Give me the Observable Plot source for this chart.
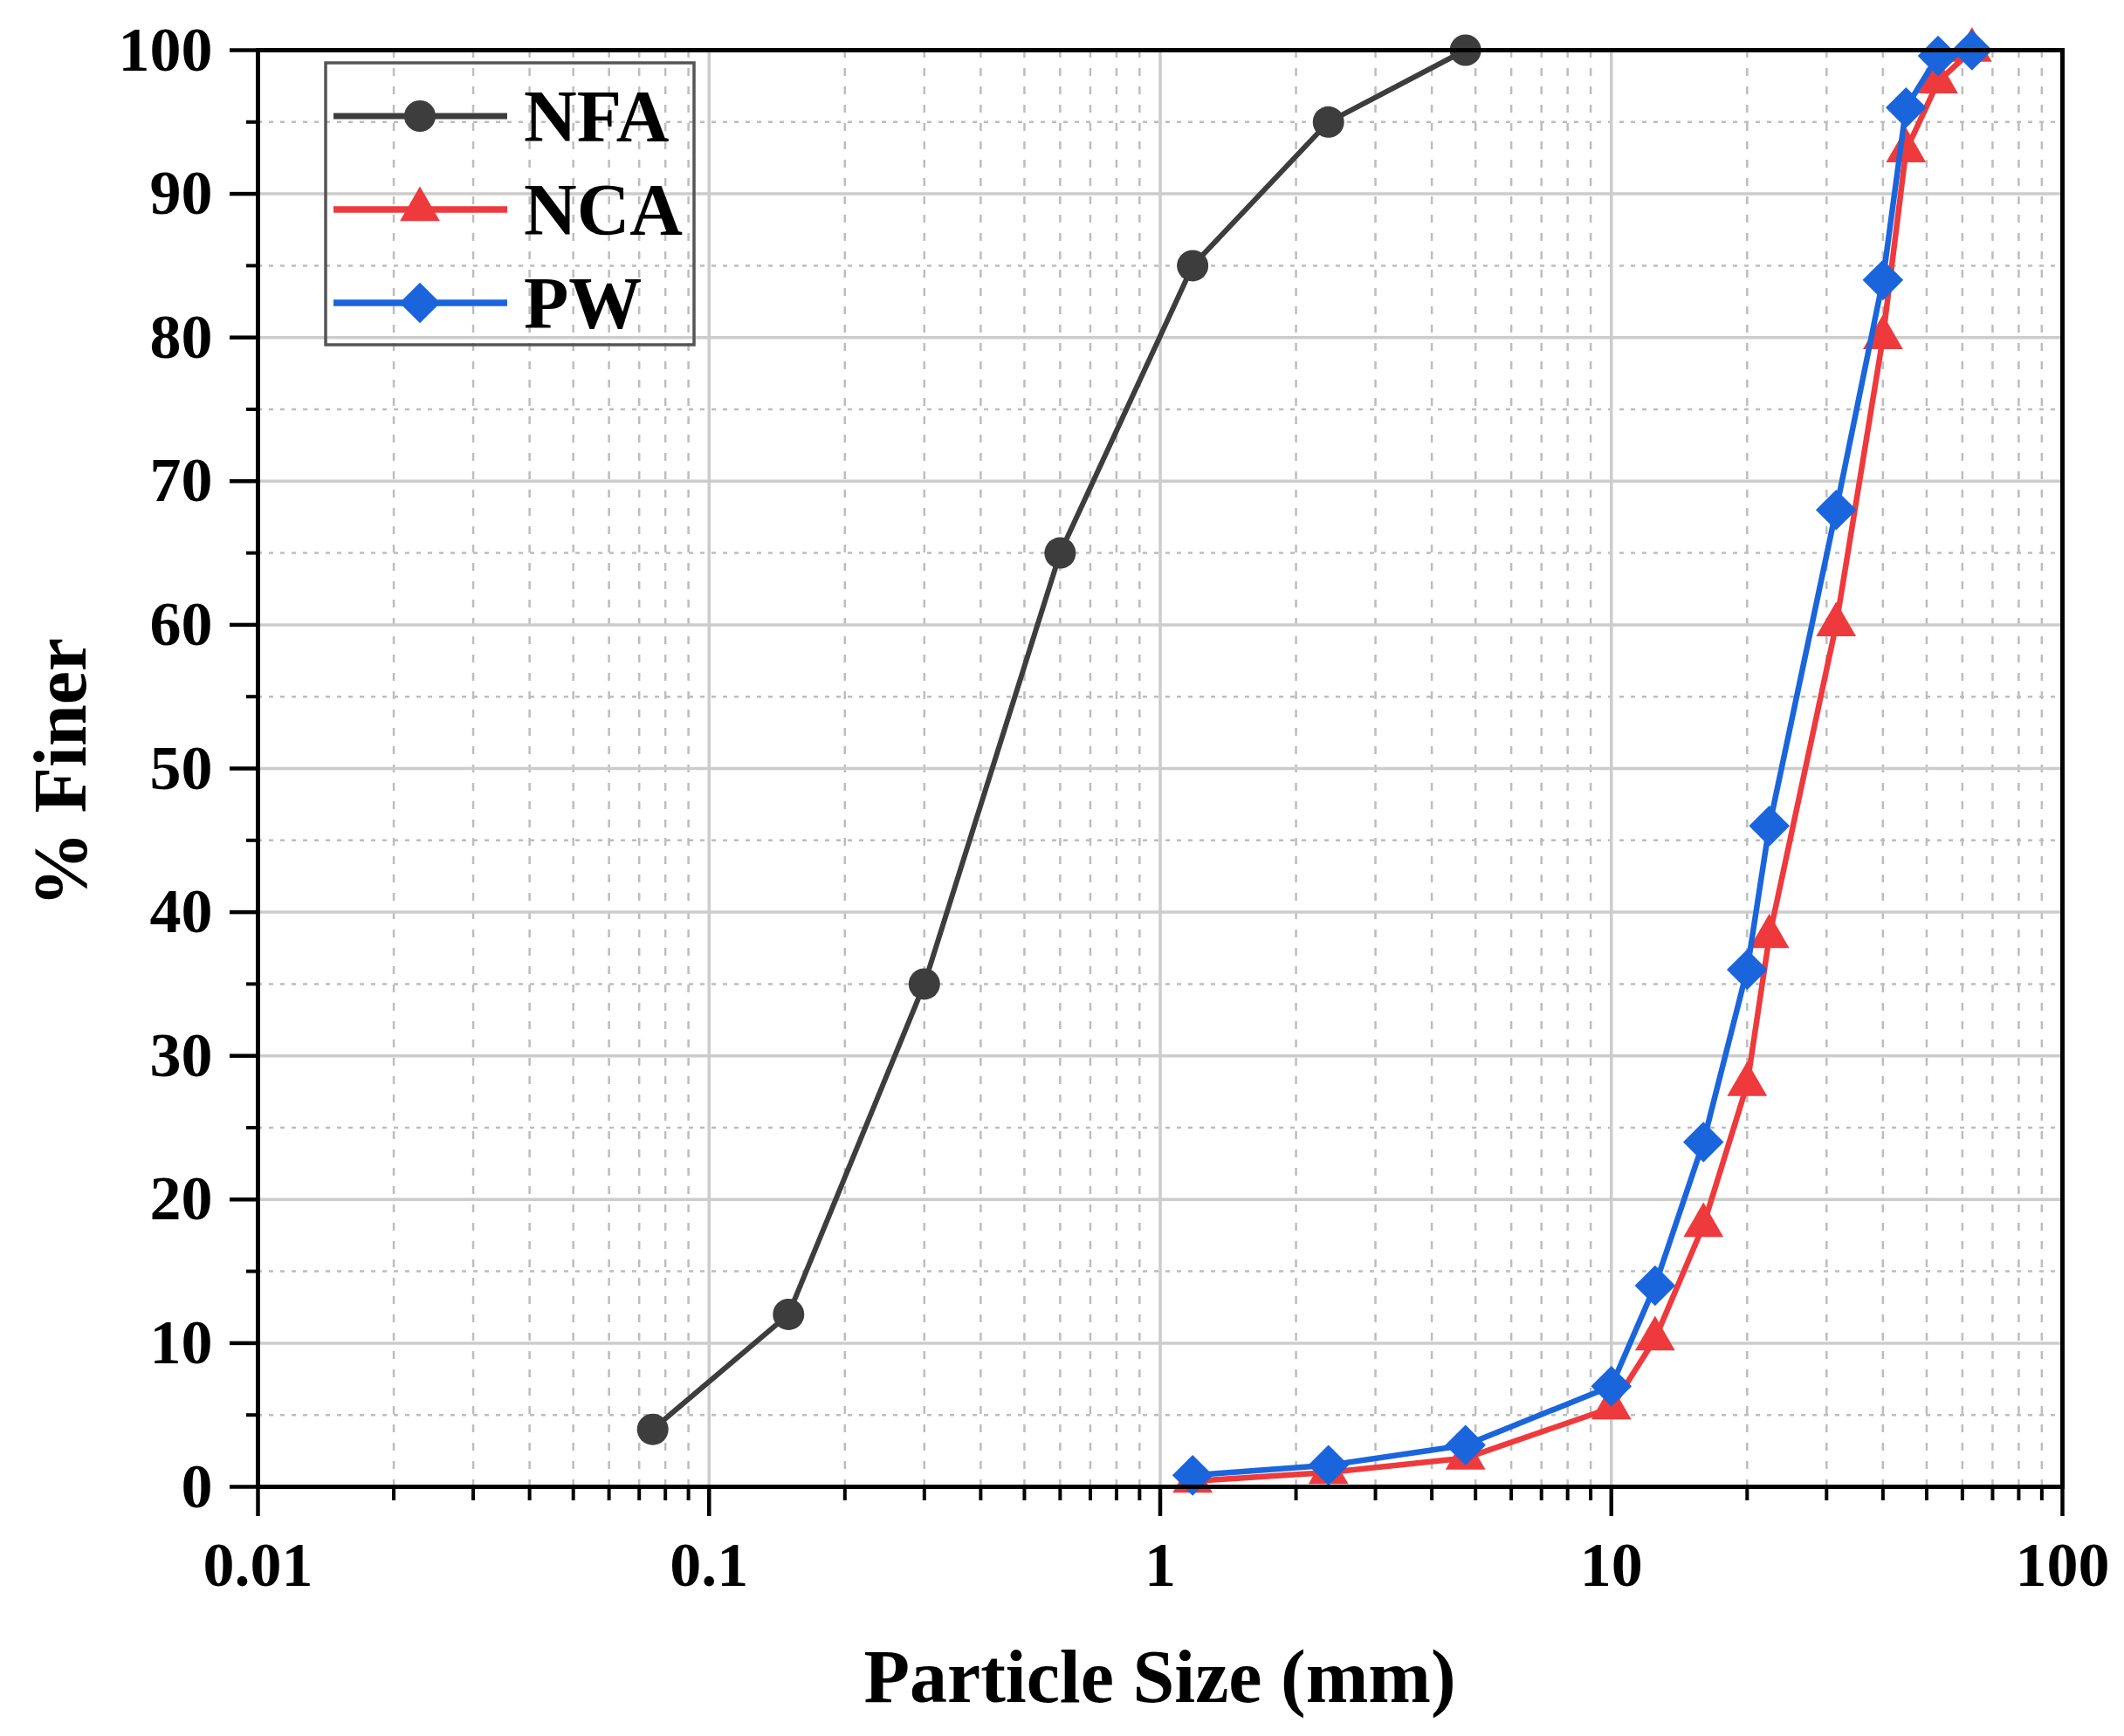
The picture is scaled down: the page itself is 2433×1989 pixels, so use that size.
<!DOCTYPE html>
<html>
<head>
<meta charset="utf-8">
<script src="https://cdn.jsdelivr.net/npm/d3@7"></script>
<script src="https://cdn.jsdelivr.net/npm/@observablehq/plot@0.6"></script>
<style>
  html, body { margin: 0; padding: 0; background: #fff; }
  #chart { width: 2433px; height: 1989px; }
</style>
</head>
<body>
<div id="chart"></div>
<script>
// Sieve sizes (mm) and cumulative percent passing
const sizesNFA = [0.075, 0.15, 0.3, 0.6, 1.18, 2.36, 4.75];
const finerNFA = [4, 12, 35, 65, 85, 95, 100];

const sizesCoarse = [1.18, 2.36, 4.75, 10, 12.5, 16, 20, 22.4, 31.5, 40, 45, 53, 63];
const finerNCA = [0.4, 1, 2, 5.5, 10.3, 18.2, 28, 38.3, 60, 80, 93, 97.8, 100];
const finerPW  = [0.8, 1.5, 2.9, 7, 14, 24, 36, 46, 68, 84, 96, 99.6, 100];

const seriesNames = ["NFA", "NCA", "PW"];
const seriesColors = ["#3d3d3d", "#ee3a3c", "#1b65dc"];
const seriesSymbols = ["circle", "triangle", "diamond2"];
const seriesRadius = [18, 17, 21];
const seriesWidth = [6, 6.5, 6.5];

// Axis ticks and labels
const xMajor = [0.01, 0.1, 1, 10, 100];
const xLabels = ["0.01", "0.1", "1", "10", "100"];
const yMajor = [0, 10, 20, 30, 40, 50, 60, 70, 80, 90, 100];
const yMinor = [5, 15, 25, 35, 45, 55, 65, 75, 85, 95];
const xMinor = xMajor.slice(0, -1).flatMap(d => [2, 3, 4, 5, 6, 7, 8, 9].map(k => k * d));

const xTitle = "Particle Size (mm)";
const yTitle = "% Finer";

const FONT = '"Liberation Serif", "Times New Roman", Times, serif';

const rows = (sizes, values, name) => sizes.map((s, i) => ({size: s, finer: values[i], series: name}));
const data = [
  rows(sizesNFA, finerNFA, "NFA"),
  rows(sizesCoarse, finerNCA, "NCA"),
  rows(sizesCoarse, finerPW, "PW")
];

const seriesMarks = data.flatMap((d, i) => [
  Plot.line(d, {x: "size", y: "finer", stroke: seriesColors[i], strokeWidth: seriesWidth[i], strokeLinejoin: "round"}),
  Plot.dot(d, {x: "size", y: "finer", symbol: () => seriesSymbols[i], r: seriesRadius[i], fill: seriesColors[i], stroke: "none"})
]);

const marginLeft = 295, marginRight = 71, marginTop = 57, marginBottom = 286;
const W = 2433, H = 1989;

const plot = Plot.plot({
  width: W,
  height: H,
  marginLeft, marginRight, marginTop, marginBottom,
  x: {type: "log", domain: [0.01, 100]},
  y: {domain: [0, 100]},
  style: {fontFamily: FONT, fontWeight: "bold", fontSize: "72px", color: "#000", background: "#fff", overflow: "visible"},
  marks: [
    // grid
    Plot.ruleX(xMinor, {stroke: "#bdbdbd", strokeWidth: 2.5, strokeDasharray: "9,12"}),
    Plot.ruleY(yMinor, {stroke: "#bdbdbd", strokeWidth: 2.5, strokeDasharray: "5,8"}),
    Plot.ruleX(xMajor, {stroke: "#cccccc", strokeWidth: 3.5}),
    Plot.ruleY(yMajor, {stroke: "#cccccc", strokeWidth: 3.5}),
    // data
    ...seriesMarks,
    // frame and axes
    Plot.frame({stroke: "#000", strokeWidth: 5}),
    Plot.axisX({ticks: xMajor, tickSize: 34, tickPadding: 28, strokeWidth: 4.5, fontSize: 72,
      tickFormat: d => xLabels[xMajor.indexOf(d)], label: null}),
    Plot.axisX({ticks: xMinor, tickSize: 16, strokeWidth: 4, tickFormat: () => "", label: null}),
    Plot.axisY({ticks: yMajor, tickSize: 32, tickPadding: 20, strokeWidth: 4.5, fontSize: 72, label: null}),
    Plot.axisY({ticks: yMinor, tickSize: 13, strokeWidth: 4, tickFormat: () => "", label: null})
  ]
});

document.getElementById("chart").appendChild(plot);

const svg = d3.select(plot);

// Axis titles, centred on the plot area
const plotCx = marginLeft + (W - marginLeft - marginRight) / 2;
const plotCy = marginTop + (H - marginTop - marginBottom) / 2;
svg.append("text")
  .attr("x", plotCx).attr("y", 1950)
  .attr("text-anchor", "middle").attr("font-family", FONT).attr("font-weight", "bold")
  .attr("font-size", 86).attr("fill", "#000").text(xTitle);
svg.append("text")
  .attr("transform", `translate(98,${plotCy + 5}) rotate(-90)`)
  .attr("text-anchor", "middle").attr("font-family", FONT).attr("font-weight", "bold")
  .attr("font-size", 86).attr("fill", "#000").text(yTitle);

// Legend box in the upper-left corner of the plot area
const legend = svg.append("g")
  .attr("font-family", FONT).attr("font-weight", "bold").attr("font-size", 84)
  .attr("text-anchor", "start");
legend.append("rect")
  .attr("x", 373).attr("y", 72).attr("width", 422).attr("height", 323)
  .attr("fill", "none").attr("stroke", "#555").attr("stroke-width", 3.5);
const symbolOf = {circle: d3.symbolCircle, triangle: d3.symbolTriangle, diamond2: d3.symbolDiamond2};
seriesNames.forEach((name, i) => {
  const cy = 133 + i * 107;
  const g = legend.append("g");
  g.append("line").attr("x1", 382).attr("x2", 581).attr("y1", cy).attr("y2", cy)
    .attr("stroke", seriesColors[i]).attr("stroke-width", seriesWidth[i] + 1);
  g.append("path")
    .attr("transform", `translate(481,${cy})`)
    .attr("d", d3.symbol(symbolOf[seriesSymbols[i]], Math.PI * seriesRadius[i] ** 2)())
    .attr("fill", seriesColors[i]);
  g.append("text").attr("x", 600).attr("y", cy).attr("dy", "0.34em")
    .attr("text-anchor", "start").attr("fill", "#000").text(name);
});
</script>
</body>
</html>
